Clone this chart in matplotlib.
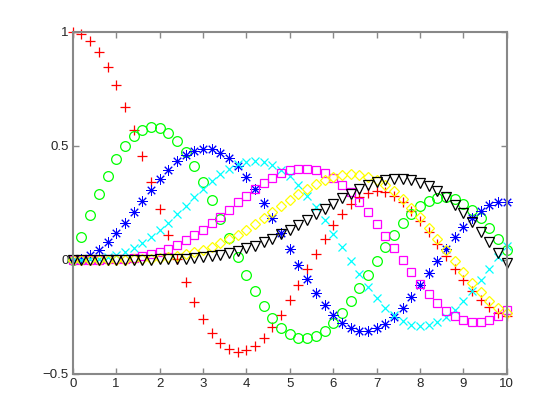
import numpy as np
import matplotlib
matplotlib.use("Agg")
import matplotlib.pyplot as plt

x = [0.0, 0.2, 0.4, 0.6, 0.8, 1.0, 1.2, 1.4, 1.6, 1.8, 2.0, 2.2, 2.4, 2.6, 2.8, 3.0,
     3.2, 3.4, 3.6, 3.8, 4.0, 4.2, 4.4, 4.6, 4.8, 5.0, 5.2, 5.4, 5.6, 5.8, 6.0,
     6.2, 6.4, 6.6, 6.8, 7.0, 7.2, 7.4, 7.6, 7.8, 8.0, 8.2, 8.4, 8.6, 8.8, 9.0,
     9.2, 9.4, 9.6, 9.8, 10.0]

j0 = [1.0, 0.9900, 0.9604, 0.9120, 0.8463, 0.7652, 0.6711, 0.5669, 0.4554, 0.3400,
      0.2239, 0.1104, 0.0025, -0.0968, -0.1850, -0.2601, -0.3202, -0.3643, -0.3918,
      -0.4026, -0.3971, -0.3766, -0.3423, -0.2961, -0.2404, -0.1776, -0.1103, -0.0412,
      0.0270, 0.0917, 0.1506, 0.2017, 0.2433, 0.2740, 0.2931, 0.3001, 0.2951, 0.2786,
      0.2516, 0.2154, 0.1717, 0.1222, 0.0692, 0.0146, -0.0392, -0.0903, -0.1367,
      -0.1768, -0.2090, -0.2323, -0.2459]
j1 = [0.0, 0.0995, 0.1960, 0.2867, 0.3688, 0.4401, 0.4983, 0.5419, 0.5699, 0.5815,
      0.5767, 0.5560, 0.5202, 0.4708, 0.4097, 0.3391, 0.2613, 0.1792, 0.0955, 0.0128,
      -0.0660, -0.1386, -0.2028, -0.2566, -0.2985, -0.3276, -0.3432, -0.3453, -0.3343,
      -0.3110, -0.2767, -0.2329, -0.1816, -0.1250, -0.0652, -0.0047, 0.0543, 0.1096,
      0.1592, 0.2014, 0.2346, 0.2580, 0.2708, 0.2728, 0.2641, 0.2453, 0.2174, 0.1816,
      0.1395, 0.0928, 0.0435]
j2 = [0.0, 0.0050, 0.0197, 0.0437, 0.0758, 0.1149, 0.1594, 0.2073, 0.2570, 0.3061,
      0.3528, 0.3951, 0.4310, 0.4590, 0.4776, 0.4861, 0.4835, 0.4697, 0.4449, 0.4093,
      0.3641, 0.3106, 0.2501, 0.1845, 0.1160, 0.0466, -0.0217, -0.0867, -0.1464,
      -0.1989, -0.2429, -0.2768, -0.3000, -0.3119, -0.3123, -0.3014, -0.2800, -0.2490,
      -0.2097, -0.1638, -0.1130, -0.0593, -0.0047, 0.0488, 0.0992, 0.1448, 0.1840,
      0.2154, 0.2381, 0.2512, 0.2546]
j3 = [0.0, 0.0002, 0.0013, 0.0044, 0.0103, 0.0196, 0.0329, 0.0505, 0.0726, 0.0987,
      0.1289, 0.1624, 0.1981, 0.2354, 0.2726, 0.3090, 0.3431, 0.3734, 0.3988, 0.4180,
      0.4301, 0.4344, 0.4302, 0.4170, 0.3952, 0.3649, 0.3265, 0.2811, 0.2297, 0.1738,
      0.1148, 0.0543, -0.0059, -0.0640, -0.1185, -0.1675, -0.2099, -0.2442, -0.2696,
      -0.2854, -0.2911, -0.2869, -0.2730, -0.2501, -0.2190, -0.1809, -0.1374, -0.0899,
      -0.0403, 0.0097, 0.0583]
j4 = [0.0, 0.0000, 0.0001, 0.0003, 0.0010, 0.0025, 0.0050, 0.0091, 0.0150, 0.0232,
      0.0340, 0.0477, 0.0643, 0.0842, 0.1065, 0.1319, 0.1598, 0.1892, 0.2198, 0.2507,
      0.2811, 0.3100, 0.3365, 0.3594, 0.3780, 0.3913, 0.3984, 0.3990, 0.3925, 0.3787,
      0.3577, 0.3294, 0.2945, 0.2537, 0.2077, 0.1578, 0.1051, 0.0510, -0.0031, -0.0557,
      -0.1053, -0.1506, -0.1903, -0.2233, -0.2485, -0.2654, -0.2736, -0.2728, -0.2633,
      -0.2453, -0.2196]
j5 = [0.0, 0.0000, 0.0000, 0.0000, 0.0001, 0.0003, 0.0006, 0.0013, 0.0025, 0.0043,
      0.0070, 0.0109, 0.0162, 0.0232, 0.0321, 0.0430, 0.0564, 0.0718, 0.0896, 0.1098,
      0.1321, 0.1561, 0.1816, 0.2080, 0.2348, 0.2612, 0.2864, 0.3100, 0.3310, 0.3485,
      0.3621, 0.3707, 0.3740, 0.3715, 0.3629, 0.3478, 0.3267, 0.2993, 0.2663, 0.2283,
      0.1858, 0.1400, 0.0918, 0.0424, -0.0069, -0.0550, -0.1005, -0.1423, -0.1791,
      -0.2099, -0.2340]
j6 = [0.0, 0.0000, 0.0000, 0.0000, 0.0000, 0.0000, 0.0001, 0.0002, 0.0003, 0.0007,
      0.0012, 0.0021, 0.0034, 0.0052, 0.0079, 0.0114, 0.0160, 0.0219, 0.0293, 0.0383,
      0.0491, 0.0617, 0.0762, 0.0928, 0.1112, 0.1311, 0.1524, 0.1751, 0.1986, 0.2222,
      0.2458, 0.2685, 0.2899, 0.3092, 0.3260, 0.3391, 0.3487, 0.3535, 0.3535, 0.3484,
      0.3376, 0.3213, 0.2996, 0.2726, 0.2407, 0.2043, 0.1644, 0.1214, 0.0767, 0.0311,
      -0.0144]

series = [j0, j1, j2, j3, j4, j5, j6]
colors = ['#ff0000', '#00ff00', '#0000ff', '#00ffff', '#ff00ff', '#ffff00', '#000000']
markers = ['+', 'o', (8, 2, 0), 'x', 's', 'D', 'v']
sizes = [7.5, 7, 7.5, 6, 5.6, 5.4, 7]
edge_widths = [0.9, 0.9, 0.7, 0.9, 0.9, 0.9, 0.9]

xticks = [0, 1, 2, 3, 4, 5, 6, 7, 8, 9, 10]
yticks = [-0.5, 0, 0.5, 1]
ytick_labels = ['\u22120.5', '0', '0.5', '1']

plt.rcParams['font.family'] = ['Liberation Sans', 'DejaVu Sans']

fig = plt.figure(figsize=(5.6, 4.2), dpi=100)
ax = fig.add_axes([0.13, 0.11, 0.775, 0.815])

for yv, c, m, s, w in zip(series, colors, markers, sizes, edge_widths):
    ax.plot(x, yv, linestyle='none', marker=m, markersize=s,
            markerfacecolor='none', markeredgecolor=c, markeredgewidth=w,
            clip_on=False)

ax.set_xlim(0, 10)
ax.set_ylim(-0.5, 1)
ax.set_xticks(xticks)
ax.set_xticklabels([str(t) for t in xticks])
ax.set_yticks(yticks)
ax.set_yticklabels(ytick_labels)
ax.tick_params(direction='in', top=True, right=True, length=4, width=1,
               color='#888888', labelsize=9.5, labelcolor='#262626', pad=3)
for sp in ax.spines.values():
    sp.set_color('#888888')
    sp.set_linewidth(1.5)

fig.savefig('out.png', dpi=100)
